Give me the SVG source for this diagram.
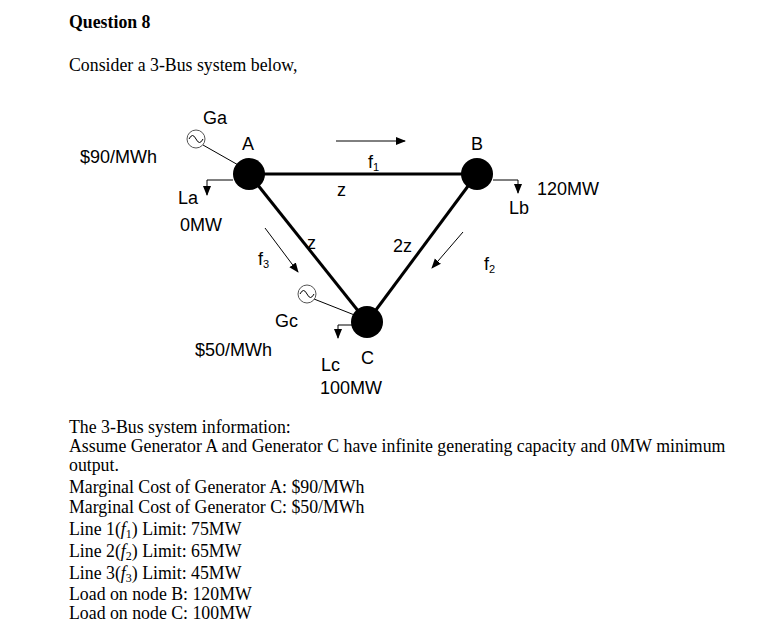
<svg xmlns="http://www.w3.org/2000/svg" width="773" height="639" viewBox="0 0 773 639">
<defs><marker id="ah" viewBox="0 0 10 10" refX="9" refY="5" markerWidth="10" markerHeight="10" markerUnits="userSpaceOnUse" orient="auto"><path d="M0,1 L10,5 L0,9 z" fill="#000"/></marker></defs>
<style>
.t{font-family:"Liberation Serif",serif;font-size:17.8px;fill:#000}
.s{font-family:"Liberation Sans",sans-serif;font-size:18px;fill:#000}
.thin{stroke:#000;stroke-width:1;fill:none}
.gen{stroke:#555;stroke-width:1;fill:#fff}
</style>
<rect width="773" height="639" fill="#fff"/>
<text class="t" x="69" y="28" font-weight="bold">Question 8</text>
<text class="t" x="69" y="71">Consider a 3-Bus system below,</text>
<g id="connectors">
<line x1="249" y1="174" x2="477" y2="174" stroke="#000" stroke-width="3"/>
<line x1="249" y1="174" x2="367" y2="322" stroke="#000" stroke-width="3"/>
<line x1="477" y1="174" x2="367" y2="322" stroke="#000" stroke-width="3"/>
<line class="thin" x1="203" y1="145" x2="240" y2="166" stroke="#555"/>
<line class="thin" x1="314" y1="299" x2="357" y2="316" stroke="#555"/>
<polyline class="thin" points="233,180 207,180 207,195" marker-end="url(#ah)"/>
<polyline class="thin" points="493,180 518,180 518,193" marker-end="url(#ah)"/>
<polyline class="thin" points="352,325 338,325 338,338" marker-end="url(#ah)"/>
<line class="thin" x1="336" y1="141" x2="405" y2="141" marker-end="url(#ah)"/>
<line class="thin" x1="265" y1="228" x2="298" y2="272" marker-end="url(#ah)"/>
<line class="thin" x1="463" y1="232" x2="432" y2="268" marker-end="url(#ah)"/>
</g>
<g id="nodeA"><circle cx="249" cy="174" r="16"/><text class="s" x="242" y="150">A</text></g>
<g id="nodeB"><circle cx="477" cy="174" r="16"/><text class="s" x="471" y="150">B</text></g>
<g id="nodeC"><circle cx="367" cy="322" r="16"/><text class="s" x="361" y="364">C</text></g>
<g id="Ga"><circle class="gen" cx="196" cy="139" r="9"/><path class="thin" stroke="#555" d="M189,139 q3.5,-7 7,0 t7,0"/><text class="s" x="203" y="124">Ga</text><text class="s" x="80" y="163">$90/MWh</text></g>
<g id="Gc"><circle class="gen" cx="307" cy="294" r="9"/><path class="thin" stroke="#555" d="M300,294 q3.5,-7 7,0 t7,0"/><text class="s" x="275" y="327">Gc</text><text class="s" x="195" y="356">$50/MWh</text></g>
<g id="labels">
<text class="s" x="178" y="204">La</text>
<text class="s" x="180" y="231">0MW</text>
<text class="s" x="509" y="214">Lb</text>
<text class="s" x="537" y="195">120MW</text>
<text class="s" x="321" y="371">Lc</text>
<text class="s" x="320" y="394">100MW</text>
<text class="s" x="368" y="168">f<tspan font-size="11" dy="3">1</tspan></text>
<text class="s" x="337" y="196">z</text>
<text class="s" x="258" y="265">f<tspan font-size="11" dy="3">3</tspan></text>
<text class="s" x="307" y="249">z</text>
<text class="s" x="393" y="252">2z</text>
<text class="s" x="484" y="270">f<tspan font-size="11" dy="3">2</tspan></text>
</g>
<text class="t" x="69" y="433">The 3-Bus system information:</text>
<text class="t" x="69" y="452">Assume Generator A and Generator C have infinite generating capacity and 0MW minimum</text>
<text class="t" x="69" y="471">output.</text>
<text class="t" x="69" y="493">Marginal Cost of Generator A: $90/MWh</text>
<text class="t" x="69" y="513">Marginal Cost of Generator C: $50/MWh</text>
<text class="t" x="69" y="535">Line 1(<tspan font-style="italic">f</tspan><tspan font-size="12" dy="3">1</tspan><tspan dy="-3">) Limit: 75MW</tspan></text>
<text class="t" x="69" y="557">Line 2(<tspan font-style="italic">f</tspan><tspan font-size="12" dy="3">2</tspan><tspan dy="-3">) Limit: 65MW</tspan></text>
<text class="t" x="69" y="579">Line 3(<tspan font-style="italic">f</tspan><tspan font-size="12" dy="3">3</tspan><tspan dy="-3">) Limit: 45MW</tspan></text>
<text class="t" x="69" y="600">Load on node B: 120MW</text>
<text class="t" x="69" y="619">Load on node C: 100MW</text>
</svg>
